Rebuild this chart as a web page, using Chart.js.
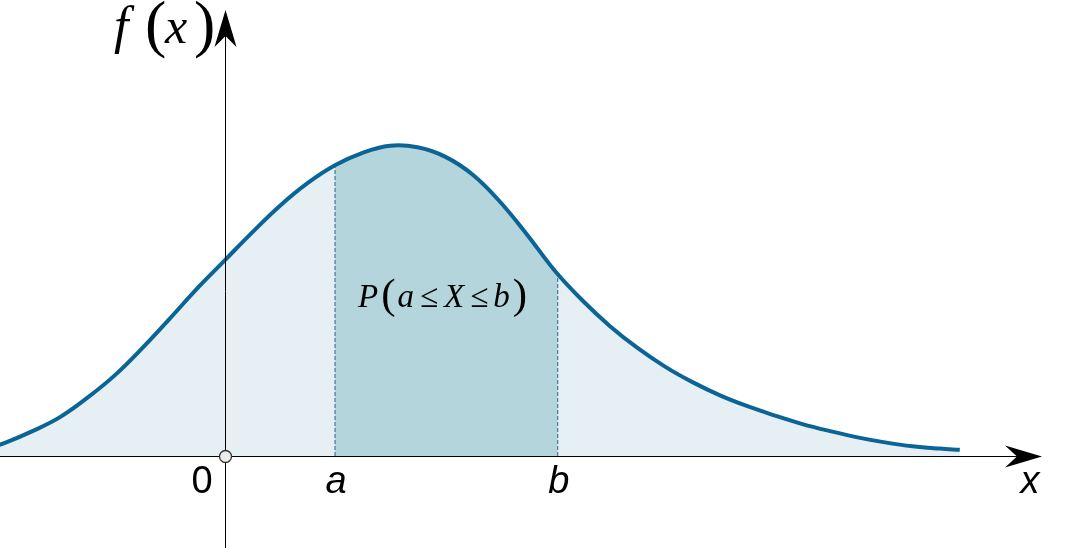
<!DOCTYPE html>
<html>
<head>
<meta charset="utf-8">
<script src="https://cdn.jsdelivr.net/npm/chart.js@4/dist/chart.umd.min.js"></script>
<style>
  html, body { margin: 0; padding: 0; background: #ffffff; }
  #wrap { width: 1071px; height: 548px; }
</style>
</head>
<body>
<div id="wrap"><canvas id="c" width="1071" height="548"></canvas></div>
<script>
// Curve of the density f(x)
const curveX = [-4.5, -4.0, -3.5, -3.0, -2.5, -2.0, -1.5, -1.0, -0.5, 0, 0.5, 1.0, 1.5, 2.0, 2.5, 3.0, 3.5, 4.0, 4.5, 5.0, 5.5, 6.0, 6.5, 7.0, 7.5, 8.0, 8.5, 9.0, 9.5, 10.0, 10.5, 11.0, 11.5, 12.0, 12.5, 13.0, 13.36];
const curveY = [0.005, 0.017, 0.032, 0.050, 0.075, 0.104, 0.139, 0.177, 0.216, 0.252, 0.288, 0.322, 0.351, 0.374, 0.390, 0.399, 0.397, 0.385, 0.362, 0.327, 0.284, 0.238, 0.200, 0.167, 0.139, 0.115, 0.095, 0.078, 0.064, 0.052, 0.041, 0.032, 0.024, 0.0175, 0.0125, 0.0095, 0.008];
// Interval bounds and curve height there
const boundA = 2.0, heightA = 0.374;
const boundB = 6.05, heightB = 0.234;
// Tick labels on the x axis
const tickValues = [0, boundA, boundB];
const tickLabels = ['0', 'a', 'b'];
const axisLabelX = 'x';
const probLabel = ['P', '(', 'a', '≤', 'X', '≤', 'b', ')'];

const curvePts = curveX.map((x, i) => ({ x: x, y: curveY[i] }));
const shadePts = curvePts.filter(p => p.x >= boundA && p.x < boundB).concat([{ x: boundB, y: heightB }]);

const overlay = {
  id: 'overlay',
  afterDatasetsDraw(chart) {
    const ctx = chart.ctx;
    const xs = chart.scales.x, ys = chart.scales.y;
    const ox = xs.getPixelForValue(0), oy = ys.getPixelForValue(0);
    const H = chart.height;
    ctx.save();
    ctx.strokeStyle = '#000';
    ctx.lineWidth = 1;
    // x axis
    ctx.beginPath(); ctx.moveTo(0, oy + 0.5); ctx.lineTo(1020, oy + 0.5); ctx.stroke();
    // y axis
    ctx.beginPath(); ctx.moveTo(ox + 0.5, H); ctx.lineTo(ox + 0.5, 35); ctx.stroke();
    ctx.fillStyle = '#000';
    // x arrow
    ctx.beginPath();
    ctx.moveTo(1042, oy + 0.5); ctx.lineTo(1005, oy - 10.5); ctx.lineTo(1017, oy + 0.5); ctx.lineTo(1005, oy + 11.5);
    ctx.closePath(); ctx.fill();
    // y arrow
    ctx.beginPath();
    ctx.moveTo(ox + 0.5, 10); ctx.lineTo(ox - 10.5, 47); ctx.lineTo(ox + 0.5, 36); ctx.lineTo(ox + 11.5, 47);
    ctx.closePath(); ctx.fill();
    // origin marker
    ctx.beginPath(); ctx.arc(ox + 0.5, oy + 0.5, 6, 0, Math.PI * 2);
    ctx.fillStyle = '#ececec'; ctx.fill();
    ctx.strokeStyle = '#333'; ctx.lineWidth = 1.3; ctx.stroke();

    // tick labels
    ctx.fillStyle = '#000';
    ctx.textAlign = 'center'; ctx.textBaseline = 'alphabetic';
    tickValues.forEach((v, i) => {
      const px = xs.getPixelForValue(v);
      if (i === 0) {
        ctx.font = '38px "Liberation Sans", Arial, sans-serif';
        ctx.fillText(tickLabels[i], px - 23, 493);
      } else {
        ctx.font = 'italic 38px "Liberation Sans", Arial, sans-serif';
        ctx.fillText(tickLabels[i], px + 1, 493);
      }
    });
    ctx.font = 'italic 38px "Liberation Sans", Arial, sans-serif';
    ctx.fillText(axisLabelX, 1030, 493);

    // f(x) label
    ctx.textAlign = 'left';
    ctx.font = 'italic 52px "Liberation Serif", "Times New Roman", serif';
    ctx.fillText('f', 114, 43);
    ctx.font = '64px "Liberation Serif", "Times New Roman", serif';
    ctx.fillText('(', 145, 45);
    ctx.font = 'italic 50px "Liberation Serif", "Times New Roman", serif';
    ctx.fillText('x', 165, 43);
    ctx.font = '64px "Liberation Serif", "Times New Roman", serif';
    ctx.fillText(')', 194, 45);

    // P(a ≤ X ≤ b) label
    const fonts = {
      it: 'italic 33px "Liberation Serif", "Times New Roman", serif',
      rm: '33px "Liberation Serif", "Times New Roman", serif',
      par: '43px "Liberation Serif", "Times New Roman", serif'
    };
    const kinds = ['it', 'par', 'it', 'rm', 'it', 'rm', 'it', 'par'];
    const gaps = [0, 3, 2, 6, 6, 6, 5, 3];
    let cx = 358;
    probLabel.forEach((t, i) => {
      cx += gaps[i];
      ctx.font = fonts[kinds[i]];
      ctx.fillText(t, cx, kinds[i] === 'par' ? 308 : 307);
      cx += ctx.measureText(t).width;
    });
    ctx.restore();
  }
};

new Chart(document.getElementById('c'), {
  type: 'line',
  data: {
    datasets: [
      { // curve line
        data: curvePts, borderColor: '#0b6496', borderWidth: 4, fill: false,
        pointRadius: 0, tension: 0.4, borderCapStyle: 'butt', order: 0
      },
      { // dashed line at a
        data: [{ x: boundA, y: 0 }, { x: boundA, y: heightA }],
        borderColor: '#2a6386', borderWidth: 1, borderDash: [4, 2], pointRadius: 0, fill: false, order: 1
      },
      { // dashed line at b
        data: [{ x: boundB, y: 0 }, { x: boundB, y: heightB }],
        borderColor: '#2a6386', borderWidth: 1, borderDash: [4, 2], pointRadius: 0, fill: false, order: 1
      },
      { // shaded probability
        data: shadePts, borderWidth: 0, borderColor: 'rgba(0,0,0,0)', backgroundColor: '#b3d5db',
        fill: 'origin', pointRadius: 0, tension: 0.4, order: 2
      },
      { // light area under curve
        data: curvePts, borderWidth: 0, borderColor: 'rgba(0,0,0,0)', backgroundColor: '#e6eff4',
        fill: 'origin', pointRadius: 0, tension: 0.4, order: 3
      }
    ]
  },
  options: {
    responsive: false,
    animation: false,
    devicePixelRatio: 1,
    layout: { padding: 0 },
    plugins: { legend: { display: false }, tooltip: { enabled: false } },
    scales: {
      x: { type: 'linear', min: -225 / 55, max: 846 / 55, display: false },
      y: { type: 'linear', min: -92 / 777.5, max: 456 / 777.5, display: false }
    }
  },
  plugins: [overlay]
});
</script>
</body>
</html>
